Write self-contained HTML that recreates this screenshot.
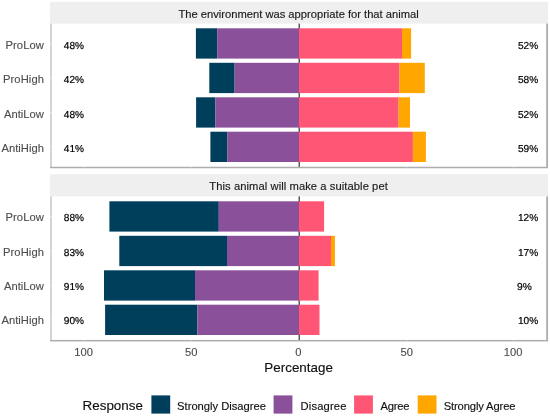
<!DOCTYPE html>
<html><head><meta charset="utf-8"><title>Chart</title>
<style>
html,body{margin:0;padding:0;background:#fff;}
body{width:550px;height:417px;overflow:hidden;}
svg{display:block;font-family:"Liberation Sans",sans-serif;}
.ax{font-size:11.2px;fill:#4d4d4d;stroke:#4d4d4d;stroke-width:0.12px;}
.st{font-size:11.2px;fill:#1a1a1a;stroke:#1a1a1a;stroke-width:0.15px;}
.in{font-size:10.1px;fill:#000;stroke:#000;stroke-width:0.2px;text-rendering:geometricPrecision;}
.lg{font-size:11.2px;fill:#111;stroke:#111;stroke-width:0.15px;}
.tt{font-size:13.4px;fill:#111;stroke:#111;stroke-width:0.15px;}
</style></head><body>
<svg width="550" height="417" viewBox="0 0 550 417">
<rect width="550" height="417" fill="#ffffff"/>
<rect x="50" y="1.8" width="498" height="21.80" fill="#efefef"/>
<text class="st" x="178.5" y="18.0" textLength="240.2" lengthAdjust="spacing">The environment was appropriate for that animal</text>
<rect x="298.65" y="23.6" width="1.1" height="143.90" fill="#222"/>
<rect x="195.9" y="28.3" width="21.3" height="30.3" fill="#003f5c"/>
<rect x="217.2" y="28.3" width="81.8" height="30.3" fill="#8a509a"/>
<rect x="299.0" y="28.3" width="103.0" height="30.3" fill="#ff5676"/>
<rect x="402.0" y="28.3" width="9.1" height="30.3" fill="#ffa600"/>
<text class="ax" x="5.42" y="49.0" textLength="38.5" lengthAdjust="spacing">ProLow</text>
<text class="in" x="63.8" y="49.0" textLength="20.2" lengthAdjust="spacingAndGlyphs">48%</text>
<text class="in" x="517.9" y="49.0" textLength="20.3" lengthAdjust="spacingAndGlyphs">52%</text>
<rect x="209.3" y="62.8" width="25.3" height="30.3" fill="#003f5c"/>
<rect x="234.6" y="62.8" width="64.4" height="30.3" fill="#8a509a"/>
<rect x="299.0" y="62.8" width="100.5" height="30.3" fill="#ff5676"/>
<rect x="399.5" y="62.8" width="25.3" height="30.3" fill="#ffa600"/>
<text class="ax" x="2.94" y="83.2" textLength="41.0" lengthAdjust="spacing">ProHigh</text>
<text class="in" x="63.8" y="83.2" textLength="20.2" lengthAdjust="spacingAndGlyphs">42%</text>
<text class="in" x="517.9" y="83.2" textLength="20.3" lengthAdjust="spacingAndGlyphs">58%</text>
<rect x="196.1" y="97.3" width="19.3" height="30.3" fill="#003f5c"/>
<rect x="215.4" y="97.3" width="83.6" height="30.3" fill="#8a509a"/>
<rect x="299.0" y="97.3" width="99.6" height="30.3" fill="#ff5676"/>
<rect x="398.6" y="97.3" width="11.4" height="30.3" fill="#ffa600"/>
<text class="ax" x="4.05" y="117.5" textLength="39.8" lengthAdjust="spacing">AntiLow</text>
<text class="in" x="63.8" y="117.5" textLength="20.2" lengthAdjust="spacingAndGlyphs">48%</text>
<text class="in" x="517.9" y="117.5" textLength="20.3" lengthAdjust="spacingAndGlyphs">52%</text>
<rect x="210.4" y="131.7" width="16.8" height="30.3" fill="#003f5c"/>
<rect x="227.2" y="131.7" width="71.8" height="30.3" fill="#8a509a"/>
<rect x="299.0" y="131.7" width="113.9" height="30.3" fill="#ff5676"/>
<rect x="412.9" y="131.7" width="13.0" height="30.3" fill="#ffa600"/>
<text class="ax" x="1.57" y="151.8" textLength="42.3" lengthAdjust="spacing">AntiHigh</text>
<text class="in" x="63.8" y="151.8" textLength="20.2" lengthAdjust="spacingAndGlyphs">41%</text>
<text class="in" x="517.9" y="151.8" textLength="20.3" lengthAdjust="spacingAndGlyphs">59%</text>
<rect x="50" y="23.6" width="1.9" height="143.90" fill="#d2d2d2"/>
<rect x="546.2" y="23.6" width="1.8" height="143.90" fill="#adadad"/>
<rect x="50" y="166.75" width="498" height="1.5" fill="#adadad"/>
<rect x="49.8" y="42.95" width="1.6" height="1" fill="#fff" opacity="0.6"/>
<rect x="49.8" y="77.45" width="1.6" height="1" fill="#fff" opacity="0.6"/>
<rect x="49.8" y="111.95" width="1.6" height="1" fill="#fff" opacity="0.6"/>
<rect x="49.8" y="146.35" width="1.6" height="1" fill="#fff" opacity="0.6"/>
<rect x="50" y="174.2" width="498" height="22.20" fill="#efefef"/>
<text class="st" x="209.3" y="190.4" textLength="178.5" lengthAdjust="spacing">This animal will make a suitable pet</text>
<rect x="298.65" y="196.4" width="1.1" height="144.30" fill="#222"/>
<rect x="109.4" y="201.3" width="109.4" height="30.3" fill="#003f5c"/>
<rect x="218.8" y="201.3" width="80.2" height="30.3" fill="#8a509a"/>
<rect x="299.0" y="201.3" width="25.1" height="30.3" fill="#ff5676"/>
<text class="ax" x="5.42" y="221.0" textLength="38.5" lengthAdjust="spacing">ProLow</text>
<text class="in" x="63.8" y="221.0" textLength="20.2" lengthAdjust="spacingAndGlyphs">88%</text>
<text class="in" x="517.9" y="221.0" textLength="20.3" lengthAdjust="spacingAndGlyphs">12%</text>
<rect x="119.3" y="235.8" width="107.7" height="30.3" fill="#003f5c"/>
<rect x="227.0" y="235.8" width="72.0" height="30.3" fill="#8a509a"/>
<rect x="299.0" y="235.8" width="32.0" height="30.3" fill="#ff5676"/>
<rect x="331.0" y="235.8" width="3.9" height="30.3" fill="#ffa600"/>
<text class="ax" x="2.94" y="255.5" textLength="41.0" lengthAdjust="spacing">ProHigh</text>
<text class="in" x="63.8" y="255.5" textLength="20.2" lengthAdjust="spacingAndGlyphs">83%</text>
<text class="in" x="517.9" y="255.5" textLength="20.3" lengthAdjust="spacingAndGlyphs">17%</text>
<rect x="104.0" y="270.3" width="91.0" height="30.3" fill="#003f5c"/>
<rect x="195.0" y="270.3" width="104.0" height="30.3" fill="#8a509a"/>
<rect x="299.0" y="270.3" width="19.6" height="30.3" fill="#ff5676"/>
<text class="ax" x="4.05" y="289.9" textLength="39.8" lengthAdjust="spacing">AntiLow</text>
<text class="in" x="63.8" y="289.9" textLength="20.2" lengthAdjust="spacingAndGlyphs">91%</text>
<text class="in" x="517.0" y="289.9" textLength="14.8" lengthAdjust="spacingAndGlyphs">9%</text>
<rect x="105.1" y="304.7" width="92.2" height="30.3" fill="#003f5c"/>
<rect x="197.3" y="304.7" width="101.7" height="30.3" fill="#8a509a"/>
<rect x="299.0" y="304.7" width="20.5" height="30.3" fill="#ff5676"/>
<text class="ax" x="1.57" y="324.4" textLength="42.3" lengthAdjust="spacing">AntiHigh</text>
<text class="in" x="63.8" y="324.4" textLength="20.2" lengthAdjust="spacingAndGlyphs">90%</text>
<text class="in" x="517.9" y="324.4" textLength="20.3" lengthAdjust="spacingAndGlyphs">10%</text>
<rect x="50" y="196.4" width="1.9" height="144.30" fill="#d2d2d2"/>
<rect x="546.2" y="196.4" width="1.8" height="144.30" fill="#adadad"/>
<rect x="50" y="339.95" width="498" height="1.5" fill="#adadad"/>
<rect x="49.8" y="215.95" width="1.6" height="1" fill="#fff" opacity="0.6"/>
<rect x="49.8" y="250.45" width="1.6" height="1" fill="#fff" opacity="0.6"/>
<rect x="49.8" y="284.95" width="1.6" height="1" fill="#fff" opacity="0.6"/>
<rect x="49.8" y="319.35" width="1.6" height="1" fill="#fff" opacity="0.6"/>
<rect x="83.95" y="166.50" width="1.1" height="0.9" fill="#fff" opacity="0.6"/>
<rect x="190.50" y="166.50" width="1.1" height="0.9" fill="#fff" opacity="0.6"/>
<rect x="406.35" y="166.50" width="1.1" height="0.9" fill="#fff" opacity="0.6"/>
<rect x="513.45" y="166.50" width="1.1" height="0.9" fill="#fff" opacity="0.6"/>
<rect x="83.95" y="339.70" width="1.1" height="0.9" fill="#fff" opacity="0.6"/>
<rect x="190.50" y="339.70" width="1.1" height="0.9" fill="#fff" opacity="0.6"/>
<rect x="406.35" y="339.70" width="1.1" height="0.9" fill="#fff" opacity="0.6"/>
<rect x="513.45" y="339.70" width="1.1" height="0.9" fill="#fff" opacity="0.6"/>
<text class="ax" x="83.6" y="356.0" text-anchor="middle">100</text>
<text class="ax" x="191.2" y="356.0" text-anchor="middle">50</text>
<text class="ax" x="298.3" y="356.0" text-anchor="middle">0</text>
<text class="ax" x="406.8" y="356.0" text-anchor="middle">50</text>
<text class="ax" x="513.2" y="356.0" text-anchor="middle">100</text>
<text class="tt" x="298.6" y="372.1" text-anchor="middle">Percentage</text>
<text class="tt" x="82.6" y="410.4">Response</text>
<rect x="151.4" y="395.4" width="18.8" height="18.2" fill="#003f5c"/>
<text class="lg" x="177.1" y="409.6" textLength="88.9" lengthAdjust="spacing">Strongly Disagree</text>
<rect x="273.6" y="395.4" width="18.8" height="18.2" fill="#8a509a"/>
<text class="lg" x="300.6" y="409.6" textLength="45.8" lengthAdjust="spacing">Disagree</text>
<rect x="354.1" y="395.4" width="18.8" height="18.2" fill="#ff5676"/>
<text class="lg" x="380.5" y="409.6" textLength="29.0" lengthAdjust="spacing">Agree</text>
<rect x="417.7" y="395.4" width="18.8" height="18.2" fill="#ffa600"/>
<text class="lg" x="443.7" y="409.6" textLength="71.8" lengthAdjust="spacing">Strongly Agree</text>
</svg></body></html>
